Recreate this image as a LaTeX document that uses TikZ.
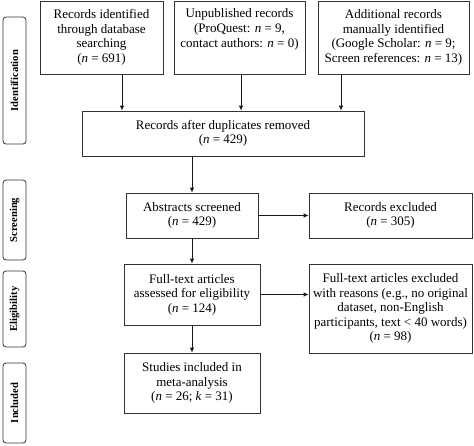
\documentclass[tikz,border=0pt]{standalone}
\usepackage{fontspec}
\setmainfont{Liberation Serif}
\usetikzlibrary{arrows.meta,calc}
\begin{document}
\begin{tikzpicture}[x=1pt,y=-1pt,
  box/.style={draw=black!80, line width=0.8pt, inner sep=0pt, align=center,
    font=\fontsize{13}{14.6}\selectfont},
  side/.style={draw=black!80, line width=0.8pt, rounded corners=3pt, inner sep=0pt,
    rotate=90, minimum height=23pt, font=\fontsize{10.6}{12}\selectfont\bfseries},
  arr/.style={-{Latex[length=5pt,width=4.5pt]}, line width=0.8pt, draw=black!90}]
\useasboundingbox (0,0) rectangle (474,445);
\node[box, minimum width=123pt, minimum height=73pt] (id1) at (101.5,37.5)
  {Records identified\\through database\\searching\\(\textit{n} = 691)};
\node[box, minimum width=131pt, minimum height=73pt] (id2) at (239.5,37.5)
  {Unpublished records\\(ProQuest: \textit{n} = 9,\\contact authors: \textit{n} = 0)\\\strut};
\node[box, minimum width=151pt, minimum height=73pt] (id3) at (393.5,37.5)
  {Additional records\\manually identified\\(Google Scholar: \textit{n} = 9;\\Screen references: \textit{n} = 13)};
\node[box, minimum width=282pt, minimum height=45pt] (dup) at (223,133.5)
  {Records after duplicates removed\\(\textit{n} = 429)};
\node[box, minimum width=132pt, minimum height=45pt] (abs) at (192,215.5)
  {Abstracts screened\\(\textit{n} = 429)};
\node[box, minimum width=163pt, minimum height=45pt] (exc1) at (390.5,215.5)
  {Records excluded\\(\textit{n} = 305)};
\node[box, minimum width=136pt, minimum height=61pt] (ft) at (192,294.5)
  {Full-text articles\\assessed for eligibility\\(\textit{n} = 124)};
\node[box, minimum width=163pt, minimum height=89pt] (exc2) at (390.5,308.5)
  {Full-text articles excluded\\with reasons (e.g., no original\\dataset, non-English\\participants, text < 40 words)\\(\textit{n} = 98)};
\node[box, minimum width=136pt, minimum height=60pt] (inc) at (192,383)
  {Studies included in\\meta-analysis\\(\textit{n} = 26; \textit{k} = 31)};
\node[side, minimum width=127pt] (sid) at (14.5,80.5) {Identification};
\node[side, minimum width=80pt] (sscr) at (14.5,220) {Screening};
\node[side, minimum width=76pt] (selig) at (14.5,309) {Eligibility};
\node[side, minimum width=80pt] (sinc) at (14.5,403) {Included};
\draw[arr] (id1.south -| 122,0) -- (dup.north -| 122,0);
\draw[arr] (id2.south -| 241,0) -- (dup.north -| 241,0);
\draw[arr] (id3.south -| 341,0) -- (dup.north -| 341,0);
\draw[arr] (abs.north |- dup.south) -- (abs.north);
\draw[arr] (abs.east) -- (exc1.west);
\draw[arr] (abs.south) -- (ft.north);
\draw[arr] (ft.east) -- (exc2.west |- ft.east);
\draw[arr] (ft.south) -- (inc.north);
\end{tikzpicture}
\end{document}
